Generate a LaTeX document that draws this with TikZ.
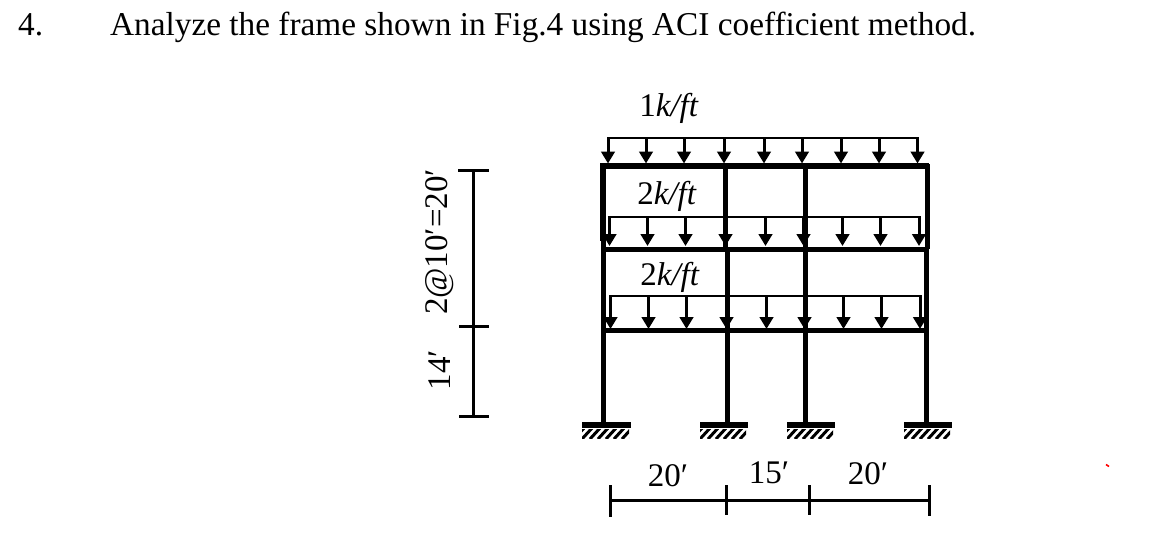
\documentclass[tikz,border=0pt]{standalone}
\usepackage{fontspec}
\setmainfont{Liberation Serif}
\usetikzlibrary{arrows.meta}
\tikzset{
  member/.style={line width=5pt,line cap=butt},
  loadline/.style={line width=2.6pt},
  loadarrow/.style={line width=3pt,-{Triangle[length=12pt,width=13.5pt]},shorten >=0pt},
  dimline/.style={line width=3pt},
  plate/.style={fill=black,draw=none},
  hatchline/.style={line width=3pt},
  title/.style={font=\fontsize{33.3}{35}\selectfont,anchor=base west,inner sep=0pt},
  lab/.style={font=\fontsize{33}{35}\selectfont,inner sep=0pt}
}
\begin{document}
\begin{tikzpicture}[x=1pt,y=-1pt]
\useasboundingbox (0,0) rectangle (1168,547);
\fill[white] (0,0) rectangle (1168,547);
% title
\node[title] (num) at (18,35) {4.};
\node[title] (ttl) at (110,35) {Analyze the frame shown in Fig.4 using ACI coefficient method.};
% frame
\foreach \n/\x in {a/603,b/727,c/805,d/926}{
  \coordinate (\n0) at (\x,423);
  \coordinate (\n1) at (\x,330);
  \coordinate (\n2) at (\x,249);
  \coordinate (\n3) at (\x,166);
}
\draw[member] (a0) -- (a2);
\draw[member] (b0) -- (b2);
\draw[member] (c0) -- (c2);
\draw[member] (d0) -- (d2);
\draw[member,line width=6pt] (603,163) -- (603,241);
\draw[member] (603,241) -- (a2);
\draw[member] (725.5,166) -- (725.5,249);
\draw[member] (805.5,166) -- (805.5,249);
\draw[member] (927,164) -- (927,249);
\draw[member,line width=5.5pt] (600,166) -- (929,166);
\draw[member] (603,249) -- (925,249);
\draw[member] (603,330) -- (925,330);
% supports
\foreach \l/\r in {582/631,700/748,787/835,904/952}{
  \fill[plate] (\l,422) rectangle (\r,428);
  \begin{scope}
    \clip (\l,429) rectangle (\r-2,438);
    \foreach \k in {0,8,...,56}{
      \draw[hatchline] (\l+\k-8,439) -- (\l+\k+3,427);
    }
  \end{scope}
}
% loads
\foreach \y/\tip/\dx in {138/163.5/0,217/246/1.5,296/329/2.5}{
  \draw[loadline] (608+\dx,\y-1) -- (608+\dx,\y) -- (918+\dx,\y) -- (918+\dx,\y-1);
  \foreach \x in {608,646,684,724,764,802,841,879,917.5}{
    \draw[loadarrow] (\x+\dx,\y) -- (\x+\dx,\tip);
  }
}
\node[lab] (l1) at (669,108) {1\textit{k/ft}};
\node[lab] (l2) at (667,196) {2\textit{k/ft}};
\node[lab] (l3) at (670,277) {2\textit{k/ft}};
% horizontal dimensions
\coordinate (h0) at (610,500);
\coordinate (h1) at (726,500);
\coordinate (h2) at (809.5,500);
\coordinate (h3) at (929,500);
\draw[dimline] (h0) -- (h3);
\draw[dimline] (610,485) -- (610,517);
\draw[dimline] (726,485) -- (726,515);
\draw[dimline] (809.5,485) -- (809.5,515);
\draw[dimline] (929,485) -- (929,516);
\node[lab] (s1) at (668,476) {20′};
\node[lab] (s2) at (769,473) {15′};
\node[lab] (s3) at (868,474) {20′};
% vertical dimensions
\coordinate (v0) at (473,170);
\coordinate (v1) at (473,326);
\coordinate (v2) at (473,416);
\draw[dimline] (v0) -- (v2);
\draw[dimline] (458,170) -- (489,170);
\draw[dimline] (459,326) -- (489,326);
\draw[dimline] (459,416) -- (489,416);
\node[lab,rotate=90] (t1) at (440,370) {14′};
\node[lab,rotate=90] (t2) at (440,242) {2@10′=20′};
% stray mark
\draw[red,line width=1.6pt] (1106,464.5) -- (1109,466.5);
\end{tikzpicture}
\end{document}
